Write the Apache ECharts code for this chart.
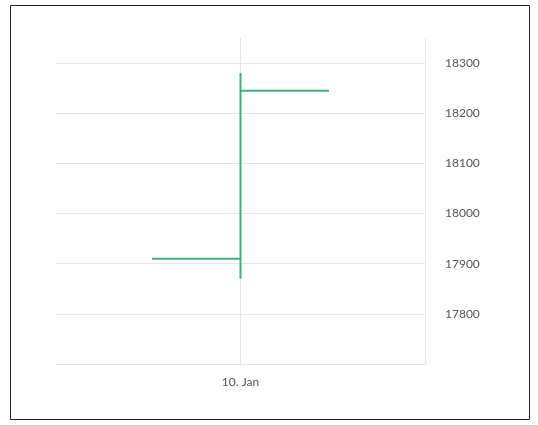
<!DOCTYPE html>
<html><head><meta charset="utf-8">
<script src="https://cdn.jsdelivr.net/npm/echarts@6/dist/echarts.min.js"></script>
<style>body{margin:0}#c{width:538px;height:425px}</style>
</head><body><div id="c"></div>
<script>
var categories = ['10. Jan'];
// open, high, low, close
var ohlc = [[17910, 18280, 17870, 18245]];

var chart = echarts.init(document.getElementById('c'));

function renderOhlc(params, api) {
  var x = api.value(0);
  var o = api.coord([x, api.value(1)]);
  var h = api.coord([x, api.value(2)]);
  var l = api.coord([x, api.value(3)]);
  var c = api.coord([x, api.value(4)]);
  var half = api.size([1, 0])[0] * 0.24;
  var st = { stroke: '#3cb07a', lineWidth: 2 };
  var grid = params.coordSys;
  return {
    type: 'group',
    children: [
      { type: 'line', shape: { x1: o[0], y1: grid.y, x2: o[0], y2: grid.y + grid.height }, style: { stroke: '#e6e6e6', lineWidth: 1 }, z2: 0 },
      { type: 'line', shape: { x1: h[0], y1: h[1], x2: l[0], y2: l[1] }, style: st, z2: 2 },
      { type: 'line', shape: { x1: o[0] - half, y1: o[1], x2: o[0], y2: o[1] }, style: st, z2: 2 },
      { type: 'line', shape: { x1: c[0], y1: c[1], x2: c[0] + half, y2: c[1] }, style: st, z2: 2 }
    ]
  };
}

chart.setOption({
  animation: false,
  graphic: [{ type: 'rect', shape: { x: 10.5, y: 5.5, width: 519, height: 414 }, style: { fill: 'none', stroke: '#222', lineWidth: 1 } }],
  grid: { left: 56, right: 113, top: 38, bottom: 61 },
  xAxis: {
    type: 'category', data: categories, boundaryGap: true,
    axisLine: { lineStyle: { color: '#e6e6e6' } },
    axisTick: { show: false },
    axisLabel: { color: '#555', fontFamily: 'Lato', fontSize: 12, margin: 12 }
  },
  yAxis: {
    type: 'value', position: 'right', min: 17700, max: 18350, interval: 100,
    axisLine: { show: true, lineStyle: { color: '#e6e6e6' } },
    axisTick: { show: false },
    splitLine: { showMaxLine: false, lineStyle: { color: '#e6e6e6' } },
    axisLabel: { color: '#555', fontFamily: 'Lato', fontSize: 12, margin: 20,
      formatter: function (v) { return (v === 17700 || v === 18350) ? '' : String(v); } }
  },
  series: [{
    type: 'custom', renderItem: renderOhlc,
    encode: { x: 0, y: [1, 2, 3, 4] },
    data: ohlc.map(function (d, i) { return [i, d[0], d[1], d[2], d[3]]; })
  }]
});
</script></body></html>
